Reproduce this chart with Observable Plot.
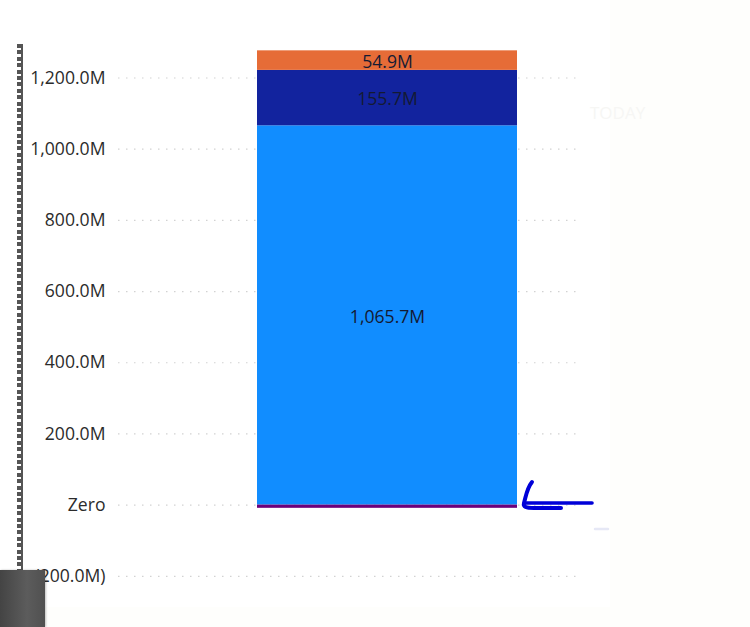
<!DOCTYPE html>
<html>
<head>
<meta charset="utf-8">
<script src="https://cdn.jsdelivr.net/npm/d3@7"></script>
<script src="https://cdn.jsdelivr.net/npm/@observablehq/plot@0.6"></script>
<style>
  html, body { margin: 0; padding: 0; background: #fefefc; }
  #stage { position: relative; width: 750px; height: 627px; overflow: hidden; }
  #panel { position: absolute; left: 0; top: 0; width: 610px; height: 607px; background: #fff; }
  #chart { position: absolute; left: 0; top: 0; }
  #chart svg { background: transparent; display: block; }
  #spine { position: absolute; left: 21px; top: 44px; width: 2px; height: 527px; background: #555; }
  #teeth { position: absolute; left: 17px; top: 44px; width: 4px; height: 527px;
           background: repeating-linear-gradient(to bottom, #555 0 4px, transparent 4px 6.4px); }
  #thumb { position: absolute; left: 0; top: 570px; width: 45px; height: 57px;
           background: linear-gradient(to right, #444, #5c5c5c 60%, #505050); box-shadow: 1px 0 2px rgba(0,0,0,.25); }
  #today { position: absolute; left: 590px; top: 101px; font: 17px "Open Sans", sans-serif; color: #f6f6f4; }
  #ink { position: absolute; left: 0; top: 0; pointer-events: none; }
</style>
</head>
<body>
<div id="stage">
  <div id="panel"></div>
  <div id="today">TODAY</div>
  <div id="chart"></div>
  <div id="spine"></div>
  <div id="teeth"></div>
  <div id="thumb"></div>
  <svg id="ink" width="750" height="627" fill="none" stroke-linecap="round" stroke-linejoin="round">
    <path d="M532 482 C527 488 526 496 524 503 C523 507 526 508 534 508 L561 508" stroke="#0000d8" stroke-width="4"/>
    <path d="M526 503 L592 503" stroke="#0000d8" stroke-width="3.6"/>
    <path d="M595 529 L608 529" stroke="#e6e8f6" stroke-width="2.5"/>
  </svg>
</div>
<script>
const category = "Total";
const seriesNames = ["Segment A", "Segment B", "Segment C", "Segment D"];
const seriesValues = [1065.7, 155.7, 54.9, -9];
const seriesLabels = ["1,065.7M", "155.7M", "54.9M", ""];
const seriesColors = ["#118dff", "#12239e", "#e66c37", "#6b007b"];
const tickValues = [-200, 0, 200, 400, 600, 800, 1000, 1200];
const tickLabels = ["(200.0M)", "Zero", "200.0M", "400.0M", "600.0M", "800.0M", "1,000.0M", "1,200.0M"];

const rows = seriesNames.map((s, i) => ({
  category, series: s, value: seriesValues[i], label: seriesLabels[i]
}));

const plot = Plot.plot({
  width: 750,
  height: 627,
  marginLeft: 118,
  marginRight: 172,
  marginTop: 42,
  marginBottom: 51,
  style: { background: "transparent", fontFamily: "'Open Sans', sans-serif" },
  x: { domain: [category], range: [257, 517], padding: 0, axis: null },
  y: { domain: [-200, 1300], range: [575.8, 41.9] },
  color: { type: "ordinal", domain: seriesNames, range: seriesColors },
  marks: [
    Plot.ruleY(tickValues, { stroke: "#d2d2d2", strokeWidth: 1.2, strokeDasharray: "1.5 6.5" }),
    Plot.axisY({
      ticks: tickValues,
      tickSize: 0,
      tickPadding: 13,
      tickFormat: d => tickLabels[tickValues.indexOf(d)],
      fontSize: 17.6,
      fill: "#2b2b2b",
      label: null
    }),
    Plot.barY(rows, {
      x: "category", y: "value", fill: "series", z: "series", order: seriesNames
    }),
    Plot.text(rows, Plot.stackY({
      x: "category", y: "value", z: "series", text: "label", order: seriesNames,
      fill: "#141a33", fontSize: 17.6, dy: 1.5
    }))
  ]
});
document.getElementById("chart").appendChild(plot);
</script>
</body>
</html>
